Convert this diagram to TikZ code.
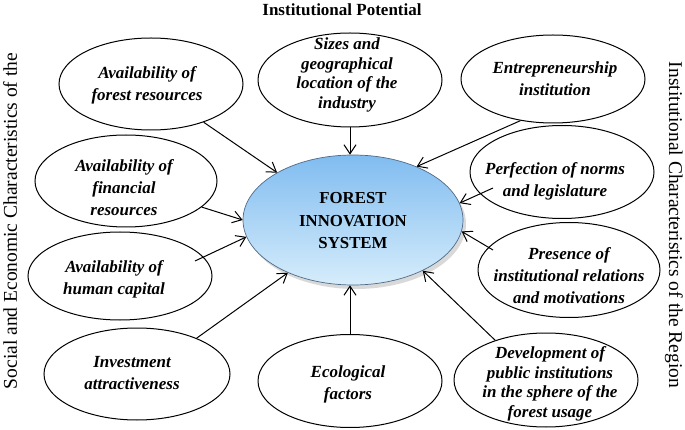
\documentclass[tikz,border=0pt]{standalone}
\usepackage{fontspec}
\setmainfont{Liberation Serif}
\usetikzlibrary{shapes.geometric,arrows.meta,shadows}
\definecolor{topblue}{RGB}{128,188,240}
\definecolor{botblue}{RGB}{214,237,251}
\definecolor{coreline}{RGB}{80,105,135}
\tikzset{
  outer/.style={draw, ellipse, minimum width=184pt, minimum height=93pt, inner sep=0pt, line width=1pt},
  lbl/.style={align=center, inner sep=0pt, font=\bfseries\itshape\fontsize{17}{22}\selectfont},
  lbltight/.style={align=center, inner sep=0pt, font=\bfseries\itshape\fontsize{17}{19.5}\selectfont},
  arr/.style={-{Straight Barb[length=9pt,width=12pt]}, line width=1pt},
  core/.style={ellipse, minimum width=220pt, minimum height=130pt, inner sep=0pt,
    top color=topblue, bottom color=botblue, draw=coreline, line width=0.7pt,
    drop shadow={opacity=0.3, shadow xshift=3pt, shadow yshift=-4pt}},
  side/.style={inner sep=0pt, font=\fontsize{19.5}{20}\selectfont}
}
\begin{document}
\begin{tikzpicture}[x=1pt,y=-1pt]
\useasboundingbox (0,0) rectangle (685,430);
% side texts
\node[font=\bfseries\fontsize{17}{20}\selectfont, inner sep=0pt] (title) at (342,10) {Institutional Potential};
\node[side, rotate=90] (lefttxt) at (10,221) {Social and Economic Characteristics of the};
\node[side, rotate=-90] (righttxt) at (674,225) {Institutional Characteristics of the Region};
% center
\node[core] (c) at (353,220) {};
\node[align=center, inner sep=0pt, font=\bfseries\fontsize{16.8}{22.5}\selectfont] (ct) at (353,221) {FOREST\\INNOVATION\\SYSTEM};
% outer ellipses
\node[outer, minimum height=92pt] (n1) at (151,84) {};
\node[outer, minimum height=94pt] (n2) at (350,80) {};
\node[outer, minimum height=88pt] (n3) at (553,79) {};
\node[outer] (n4) at (562,172) {};
\node[outer, minimum width=182pt, minimum height=95pt] (n5) at (569,270) {};
\node[outer, minimum height=94pt] (n6) at (546,380) {};
\node[outer] (n7) at (350,381) {};
\node[outer, minimum width=186pt, minimum height=92pt] (n8) at (137,374) {};
\node[outer, minimum height=88pt] (n9) at (120,276) {};
\node[outer, minimum width=182pt, minimum height=92pt] (n10) at (126,181) {};
% texts
\node[lbl] (t1) at (147,85) {Availability of\\forest resources};
\node[lbltight] (t2) at (347,75) {Sizes and\\geographical\\location of the\\industry};
\node[lbl] (t3) at (555,79) {Entrepreneurship\\institution};
\node[lbl] (t4) at (555,181) {Perfection of norms\\and legislature};
\node[lbl] (t5) at (569,276) {Presence of\\institutional relations\\and motivations};
\node[lbltight] (t6) at (550,384) {Development of\\public institutions\\in the sphere of the\\forest usage};
\node[lbl] (t7) at (348,384) {Ecological\\factors};
\node[lbl] (t8) at (132,373) {Investment\\attractiveness};
\node[lbl] (t9) at (114,279) {Availability of\\human capital};
\node[lbl] (t10) at (124,188) {Availability of\\financial\\resources};
% arrow start points inside ellipses
\coordinate (p4) at (493,188);
\coordinate (p5) at (493,250);
\coordinate (p9) at (195,261);
% arrows
\draw[arr] (n1.-36) -- (c.148);
\draw[arr] (n2.south) -- (c.north -| n2.south);
\draw[arr] (n3.-128) -- (c.40);
\draw[arr] (p4) -- (c.9);
\draw[arr] (p5) -- (c.-6);
\draw[arr] (n6.142) -- (c.-36);
\draw[arr] (n7.north) -- (c.south -| n7.north);
\draw[arr] (n8.31) -- (c.-141);
\draw[arr] (p9) -- (c.189);
\draw[arr] (n10.-19) -- (c.180);
\end{tikzpicture}
\end{document}
